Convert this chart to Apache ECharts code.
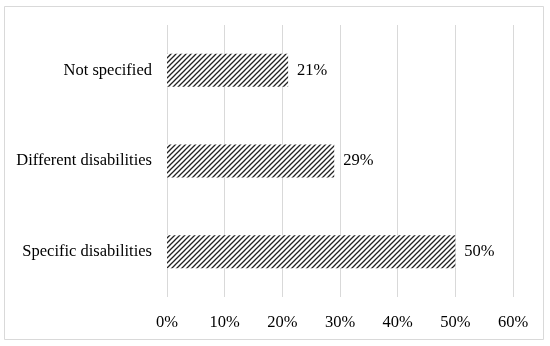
<!DOCTYPE html>
<html><head><meta charset="utf-8">
<script src="https://cdn.jsdelivr.net/npm/echarts@6/dist/echarts.min.js"></script>
<style>html,body{margin:0;padding:0;background:#fff}#c{width:550px;height:346px}</style>
</head><body><div id="c"></div>
<script>
var categories = ['Specific disabilities', 'Different disabilities', 'Not specified'];
var values = [50, 29, 21];
var tickLabels = ['0%', '10%', '20%', '30%', '40%', '50%', '60%'];

function hatch() {
  var s = 5, c = document.createElement('canvas');
  c.width = s; c.height = s;
  var g = c.getContext('2d');
  g.fillStyle = '#fff'; g.fillRect(0, 0, s, s);
  g.strokeStyle = '#222'; g.lineWidth = 1.3;
  g.beginPath();
  g.moveTo(-1, s + 1); g.lineTo(s + 1, -1);
  g.moveTo(-1, 1); g.lineTo(1, -1);
  g.moveTo(s - 1, s + 1); g.lineTo(s + 1, s - 1);
  g.stroke();
  return c;
}
var font = '"Liberation Serif", "DejaVu Serif", serif';
var chart = echarts.init(document.getElementById('c'), null, {renderer: 'canvas'});
chart.setOption({
  animation: false,
  backgroundColor: '#fff',
  graphic: [{type: 'rect', shape: {x: 4.5, y: 6.5, width: 539, height: 333}, style: {fill: 'none', stroke: '#d9d9d9', lineWidth: 1}, z: -1}],
  grid: {left: 167, right: 37, top: 25, bottom: 49},
  xAxis: {
    type: 'value', min: 0, max: 60, interval: 10,
    axisLine: {show: false}, axisTick: {show: false},
    splitLine: {lineStyle: {color: '#d9d9d9', width: 1}},
    axisLabel: {formatter: function (v) { return tickLabels[Math.round(v / 10)]; }, color: '#000', fontFamily: font, fontSize: 16.5, margin: 17}
  },
  yAxis: {
    type: 'category', data: categories,
    axisLine: {show: false}, axisTick: {show: false},
    axisLabel: {color: '#000', fontFamily: font, fontSize: 16.5, margin: 15}
  },
  series: [{
    type: 'bar', data: values, barWidth: 33,
    itemStyle: {color: {image: hatch(), repeat: 'repeat'}},
    label: {show: true, position: 'right', distance: 9, formatter: '{c}%', color: '#000', fontFamily: font, fontSize: 16.5}
  }]
});
</script></body></html>
